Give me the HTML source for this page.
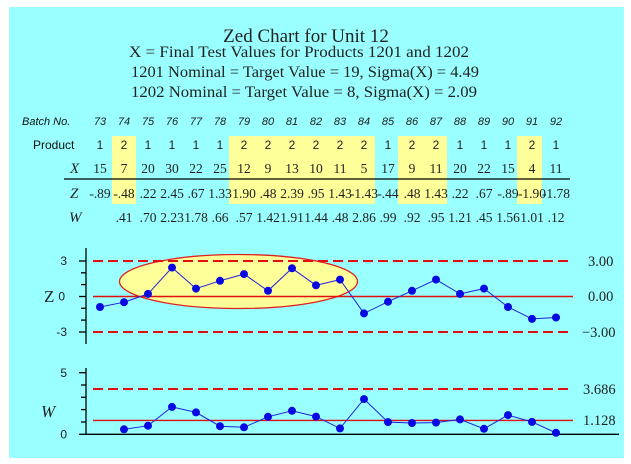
<!DOCTYPE html>
<html><head><meta charset="utf-8"><style>
html,body{margin:0;padding:0;background:#fff;}
svg{display:block;}
</style></head><body>
<svg width="631" height="464" viewBox="0 0 631 464" xmlns="http://www.w3.org/2000/svg">
<rect x="9" y="7" width="615" height="451" fill="#99ffff"/>
<g font-family="Liberation Serif, serif" fill="#222" text-anchor="middle">
<text x="306" y="42" font-size="19">Zed Chart for Unit 12</text>
<text x="299" y="57" font-size="15.5" textLength="340" lengthAdjust="spacingAndGlyphs">X = Final Test Values for Products 1201 and 1202</text>
<text x="305" y="77" font-size="15.5" textLength="348" lengthAdjust="spacingAndGlyphs">1201 Nominal = Target Value = 19, Sigma(X)  =  4.49</text>
<text x="304" y="97" font-size="15.5" textLength="346" lengthAdjust="spacingAndGlyphs">1202 Nominal = Target Value = 8, Sigma(X)  =  2.09</text>
</g>
<g fill="#ffff99">
<rect x="112" y="136" width="24" height="68"/>
<rect x="229" y="136" width="146" height="68"/>
<rect x="398" y="136" width="49" height="68"/>
<rect x="517" y="136" width="25" height="68"/>
</g>
<line x1="64" y1="179" x2="570" y2="179" stroke="#000" stroke-width="1.2"/>
<g font-family="Liberation Sans, sans-serif" font-size="11" font-style="italic" fill="#111">
<text x="22" y="125">Batch No.</text>
</g>
<text x="33" y="149" font-family="Liberation Sans, sans-serif" font-size="12" fill="#111">Product</text>
<g font-family="Liberation Serif, serif" font-size="15" font-style="italic" fill="#222">
<text x="70" y="173">X</text><text x="70" y="198">Z</text><text x="69" y="222">W</text>
</g>
<g text-anchor="middle" fill="#222">
<g font-family="Liberation Sans, sans-serif" font-size="11" font-style="italic">
<text x="100" y="125">73</text><text x="124" y="125">74</text><text x="148" y="125">75</text><text x="172" y="125">76</text><text x="196" y="125">77</text><text x="220" y="125">78</text><text x="244" y="125">79</text><text x="268" y="125">80</text><text x="292" y="125">81</text><text x="316" y="125">82</text><text x="340" y="125">83</text><text x="364" y="125">84</text><text x="388" y="125">85</text><text x="412" y="125">86</text><text x="436" y="125">87</text><text x="460" y="125">88</text><text x="484" y="125">89</text><text x="508" y="125">90</text><text x="532" y="125">91</text><text x="556" y="125">92</text>
</g>
<g font-family="Liberation Sans, sans-serif" font-size="12">
<text x="100" y="149">1</text><text x="124" y="149">2</text><text x="148" y="149">1</text><text x="172" y="149">1</text><text x="196" y="149">1</text><text x="220" y="149">1</text><text x="244" y="149">2</text><text x="268" y="149">2</text><text x="292" y="149">2</text><text x="316" y="149">2</text><text x="340" y="149">2</text><text x="364" y="149">2</text><text x="388" y="149">1</text><text x="412" y="149">2</text><text x="436" y="149">2</text><text x="460" y="149">1</text><text x="484" y="149">1</text><text x="508" y="149">1</text><text x="532" y="149">2</text><text x="556" y="149">1</text>
</g>
<g font-family="Liberation Serif, serif" font-size="13.5">
<text x="100" y="173">15</text><text x="124" y="173">7</text><text x="148" y="173">20</text><text x="172" y="173">30</text><text x="196" y="173">22</text><text x="220" y="173">25</text><text x="244" y="173">12</text><text x="268" y="173">9</text><text x="292" y="173">13</text><text x="316" y="173">10</text><text x="340" y="173">11</text><text x="364" y="173">5</text><text x="388" y="173">17</text><text x="412" y="173">9</text><text x="436" y="173">11</text><text x="460" y="173">20</text><text x="484" y="173">22</text><text x="508" y="173">15</text><text x="532" y="173">4</text><text x="556" y="173">11</text>
<text x="100" y="198">-.89</text><text x="124" y="198">-.48</text><text x="148" y="198">.22</text><text x="172" y="198">2.45</text><text x="196" y="198">.67</text><text x="220" y="198">1.33</text><text x="244" y="198">1.90</text><text x="268" y="198">.48</text><text x="292" y="198">2.39</text><text x="316" y="198">.95</text><text x="340" y="198">1.43</text><text x="364" y="198">-1.43</text><text x="388" y="198">-.44</text><text x="412" y="198">.48</text><text x="436" y="198">1.43</text><text x="460" y="198">.22</text><text x="484" y="198">.67</text><text x="508" y="198">-.89</text><text x="532" y="198">-1.90</text><text x="556" y="198">-1.78</text>
<text x="124" y="222">.41</text><text x="148" y="222">.70</text><text x="172" y="222">2.23</text><text x="196" y="222">1.78</text><text x="220" y="222">.66</text><text x="244" y="222">.57</text><text x="268" y="222">1.42</text><text x="292" y="222">1.91</text><text x="316" y="222">1.44</text><text x="340" y="222">.48</text><text x="364" y="222">2.86</text><text x="388" y="222">.99</text><text x="412" y="222">.92</text><text x="436" y="222">.95</text><text x="460" y="222">1.21</text><text x="484" y="222">.45</text><text x="508" y="222">1.56</text><text x="532" y="222">1.01</text><text x="556" y="222">.12</text>
</g>
</g>
<ellipse cx="238.5" cy="281.5" rx="119" ry="27" fill="#ffff99" stroke="#e02020" stroke-width="1.3"/>
<g stroke="#000" stroke-width="1.3">
<line x1="86" y1="248" x2="86" y2="344"/>
<line x1="79" y1="261" x2="86" y2="261"/><line x1="81" y1="272.8" x2="86" y2="272.8"/><line x1="81" y1="284.6" x2="86" y2="284.6"/>
<line x1="79" y1="296.5" x2="86" y2="296.5"/><line x1="81" y1="308.3" x2="86" y2="308.3"/><line x1="81" y1="320.1" x2="86" y2="320.1"/>
<line x1="79" y1="332" x2="86" y2="332"/>
<line x1="86" y1="368" x2="86" y2="434.3"/><line x1="86" y1="434.3" x2="619" y2="434.3"/>
<line x1="79" y1="372.7" x2="86" y2="372.7"/><line x1="81" y1="385" x2="86" y2="385"/><line x1="81" y1="397.3" x2="86" y2="397.3"/><line x1="81" y1="409.6" x2="86" y2="409.6"/><line x1="81" y1="422" x2="86" y2="422"/><line x1="79" y1="434.3" x2="86" y2="434.3"/>
</g>
<g stroke="#e01010" stroke-width="2" fill="none">
<line x1="93" y1="261" x2="573" y2="261" stroke-dasharray="10,5"/>
<line x1="93" y1="332" x2="573" y2="332" stroke-dasharray="10,5"/>
<line x1="93" y1="296.5" x2="573" y2="296.5" stroke-width="1.4"/>
<line x1="93" y1="389" x2="573" y2="389" stroke-dasharray="10,5"/>
<line x1="93" y1="420.4" x2="573" y2="420.4" stroke-width="1.4"/>
</g>
<g font-family="Liberation Sans, sans-serif" font-size="12" fill="#222" text-anchor="end">
<text x="67" y="265">3</text><text x="65" y="300.5">0</text><text x="67" y="336">-3</text>
<text x="67" y="377">5</text><text x="67" y="438.5">0</text>
</g>
<g font-family="Liberation Serif, serif" fill="#222">
<text x="44" y="302" font-size="17">Z</text>
<text x="41" y="417" font-size="17" font-style="italic">W</text>
<g font-size="14.5">
<text x="588" y="266">3.00</text><text x="588" y="301">0.00</text><text x="582" y="337">−3.00</text>
<text x="583" y="394">3.686</text><text x="583" y="425">1.128</text>
</g>
</g>
<g stroke="#2020dd" stroke-width="1" fill="none">
<polyline points="100,307 124,302.2 148,293.9 172,267.6 196,288.6 220,280.8 244,274.1 268,290.8 292,268.3 316,285.3 340,279.6 364,313.4 388,301.7 412,290.8 436,279.6 460,293.9 484,288.6 508,307 532,318.9 556,317.5"/>
<polyline points="124,429.3 148,425.7 172,406.9 196,412.4 220,426.2 244,427.3 268,416.8 292,410.8 316,416.6 340,428.4 364,399.1 388,422.1 412,423 436,422.6 460,419.4 484,428.8 508,415.1 532,421.9 556,432.8"/>
</g>
<g fill="#0a0ae0">
<circle cx="100" cy="307" r="4"/><circle cx="124" cy="302.2" r="4"/><circle cx="148" cy="293.9" r="4"/><circle cx="172" cy="267.6" r="4"/><circle cx="196" cy="288.6" r="4"/><circle cx="220" cy="280.8" r="4"/><circle cx="244" cy="274.1" r="4"/><circle cx="268" cy="290.8" r="4"/><circle cx="292" cy="268.3" r="4"/><circle cx="316" cy="285.3" r="4"/><circle cx="340" cy="279.6" r="4"/><circle cx="364" cy="313.4" r="4"/><circle cx="388" cy="301.7" r="4"/><circle cx="412" cy="290.8" r="4"/><circle cx="436" cy="279.6" r="4"/><circle cx="460" cy="293.9" r="4"/><circle cx="484" cy="288.6" r="4"/><circle cx="508" cy="307" r="4"/><circle cx="532" cy="318.9" r="4"/><circle cx="556" cy="317.5" r="4"/>
<circle cx="124" cy="429.3" r="4"/><circle cx="148" cy="425.7" r="4"/><circle cx="172" cy="406.9" r="4"/><circle cx="196" cy="412.4" r="4"/><circle cx="220" cy="426.2" r="4"/><circle cx="244" cy="427.3" r="4"/><circle cx="268" cy="416.8" r="4"/><circle cx="292" cy="410.8" r="4"/><circle cx="316" cy="416.6" r="4"/><circle cx="340" cy="428.4" r="4"/><circle cx="364" cy="399.1" r="4"/><circle cx="388" cy="422.1" r="4"/><circle cx="412" cy="423" r="4"/><circle cx="436" cy="422.6" r="4"/><circle cx="460" cy="419.4" r="4"/><circle cx="484" cy="428.8" r="4"/><circle cx="508" cy="415.1" r="4"/><circle cx="532" cy="421.9" r="4"/><circle cx="556" cy="432.8" r="4"/>
</g>
</svg>
</body></html>
